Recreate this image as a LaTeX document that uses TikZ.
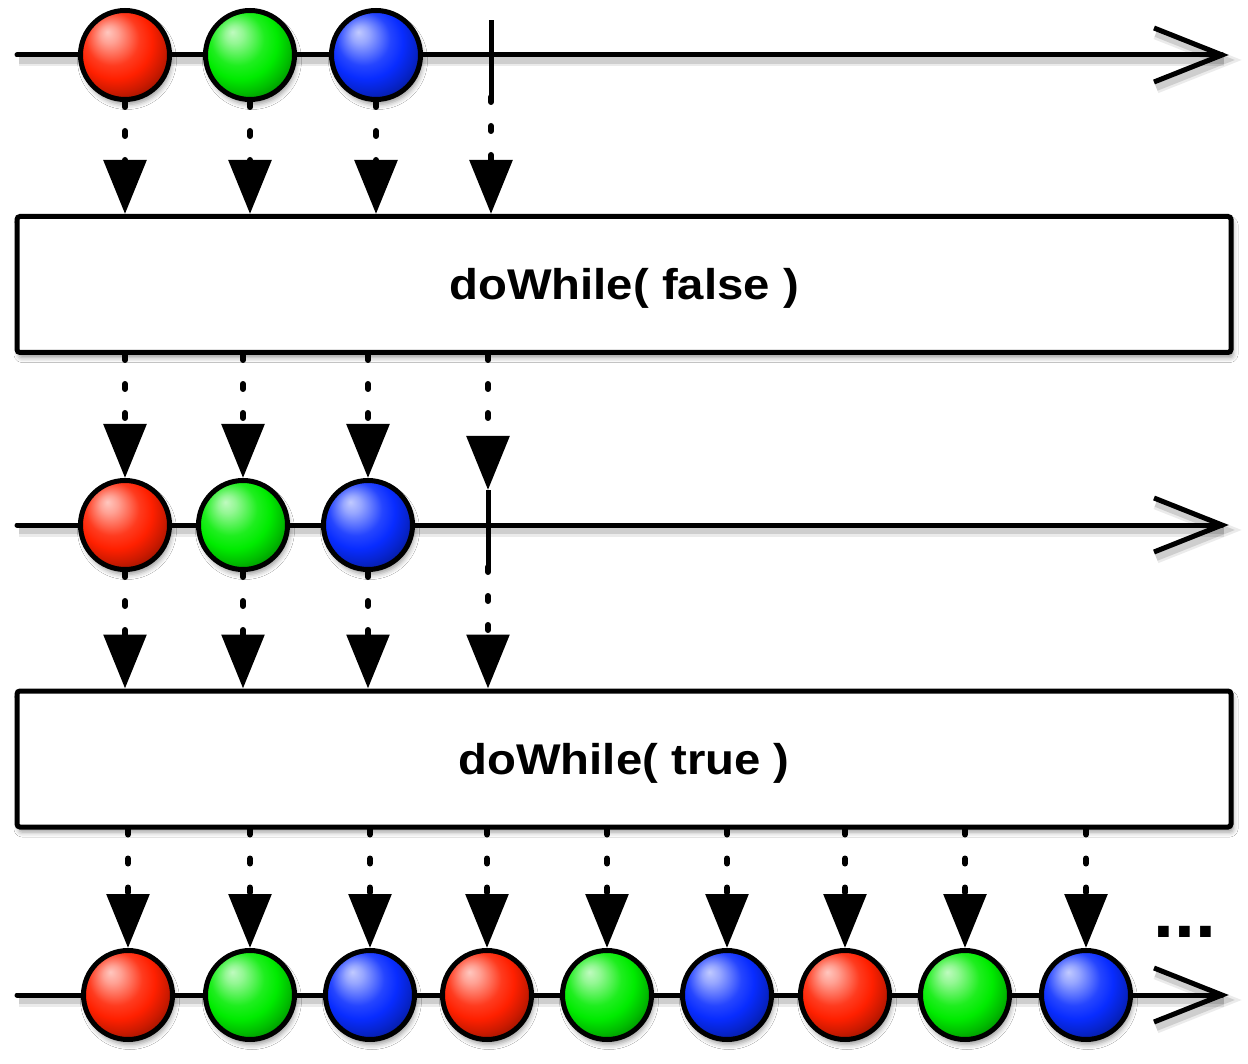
\documentclass[tikz,border=0pt]{standalone}
\usepackage{fontspec}
\newfontfamily\lblfont[FakeStretch=1.1]{Liberation Sans}
\newfontfamily\dotfont{Liberation Sans}
\usetikzlibrary{arrows.meta,shadows.blur,calc}
\definecolor{ballR}{RGB}{255,32,0}
\definecolor{ballG}{RGB}{0,236,0}
\definecolor{ballB}{RGB}{8,44,255}
\pgfdeclareradialshading{shR}{\pgfpoint{-10bp}{13bp}}{color(0bp)=(ballR!25!white); color(5bp)=(ballR!42!white); color(15bp)=(ballR!88!white); color(21bp)=(ballR); color(27bp)=(ballR!80!black); color(34bp)=(ballR!52!black); color(50bp)=(ballR!40!black)}
\pgfdeclareradialshading{shG}{\pgfpoint{-10bp}{13bp}}{color(0bp)=(ballG!25!white); color(5bp)=(ballG!42!white); color(15bp)=(ballG!88!white); color(21bp)=(ballG); color(27bp)=(ballG!80!black); color(34bp)=(ballG!52!black); color(50bp)=(ballG!40!black)}
\pgfdeclareradialshading{shB}{\pgfpoint{-10bp}{13bp}}{color(0bp)=(ballB!25!white); color(5bp)=(ballB!42!white); color(15bp)=(ballB!88!white); color(21bp)=(ballB); color(27bp)=(ballB!80!black); color(34bp)=(ballB!52!black); color(50bp)=(ballB!40!black)}
\begin{document}
\begin{tikzpicture}[x=1pt,y=-1pt,
  softshadow/.style={blur shadow={shadow xshift=2pt,shadow yshift=-5pt,shadow blur radius=5pt,shadow opacity=40}},
  ball/.style={circle,draw=black,line width=5pt,minimum size=89pt,inner sep=0pt,softshadow,shade},
  ballr/.style={ball,shading=shR},
  ballg/.style={ball,shading=shG},
  ballb/.style={ball,shading=shB},
  tickmark/.style={rectangle,fill=black,draw=none,minimum width=5pt,minimum height=77pt,inner sep=0pt,outer sep=0pt},
  lineshadow/.style={preaction={draw=black,opacity=0.08,line width=13pt,transform canvas={xshift=2pt,yshift=-5pt}},
                     preaction={draw=black,opacity=0.12,line width=8pt,transform canvas={xshift=2pt,yshift=-5pt}}},
  timeline/.style={line width=5pt,line cap=round,line join=miter,lineshadow},
  headline/.style={line width=5pt,line cap=butt,line join=miter,lineshadow},
  conn/.style={line width=6pt,line cap=round,dash pattern=on 5pt off 24pt,-{Triangle[length=54pt,width=42pt]}},
  opbox/.style={rectangle,draw=black,fill=white,line width=5pt,rounded corners=3pt,
    minimum width=1214pt,minimum height=136pt,softshadow,
    font=\lblfont\bfseries\fontsize{43}{50}\selectfont,text height=31pt,text depth=0pt},
  ellip/.style={font=\dotfont\bfseries\fontsize{75}{80}\selectfont,anchor=base,inner sep=0pt}
]
\useasboundingbox (0,0) rectangle (1248,1064);
\fill[white] (0,0) rectangle (1248,1064);

% timelines
\coordinate (s1) at (17,55);   \coordinate (e1) at (1222,55);
\coordinate (s2) at (17,525);  \coordinate (e2) at (1222,525);
\coordinate (s3) at (17,995);  \coordinate (e3) at (1222,995);
\foreach \e/\s in {e1/s1,e2/s2,e3/s3}{
  \draw[timeline] (\s) -- (\e);
  \draw[headline] ($(\e)+(-68,-27)$) -- (\e) -- ($(\e)+(-68,27)$);
}

% boxes
\node[opbox] (b1) at (624,284.5) {doWhile( false )};
\node[opbox] (b2) at (624,759) {doWhile( true )};

% row 1
\node[ballr] (r1a) at (125,55) {};
\node[ballg] (r1b) at (250,55) {};
\node[ballb] (r1c) at (376,55) {};
\node[tickmark] (t1) at (491,58.5) {};

% row 2
\node[ballr] (r2a) at (125,525) {};
\node[ballg] (r2b) at (243,525) {};
\node[ballb] (r2c) at (368,525) {};
\node[tickmark] (t2) at (488,528.5) {};

% row 3
\node[ballr] (r3a) at (128,995) {};
\node[ballg] (r3b) at (250,995) {};
\node[ballb] (r3c) at (370,995) {};
\node[ballr] (r3d) at (487,995) {};
\node[ballg] (r3e) at (607,995) {};
\node[ballb] (r3f) at (727,995) {};
\node[ballr] (r3g) at (845,995) {};
\node[ballg] (r3h) at (965,995) {};
\node[ballb] (r3i) at (1086,995) {};
\node[ellip] (dots) at (1185,937) {...};

% connectors row 1 -> box 1
\foreach \n in {r1a,r1b,r1c,t1}
  \draw[conn] (\n.south) -- (\n.south |- b1.north);
% box 1 -> row 2
\foreach \n in {r2a,r2b,r2c,t2}
  \draw[conn] (b1.south -| \n) -- (\n.north);
% row 2 -> box 2
\foreach \n in {r2a,r2b,r2c,t2}
  \draw[conn] (\n.south) -- (\n.south |- b2.north);
% box 2 -> row 3
\foreach \n in {r3a,r3b,r3c,r3d,r3e,r3f,r3g,r3h,r3i}
  \draw[conn] (b2.south -| \n) -- (\n.north);
\end{tikzpicture}
\end{document}
